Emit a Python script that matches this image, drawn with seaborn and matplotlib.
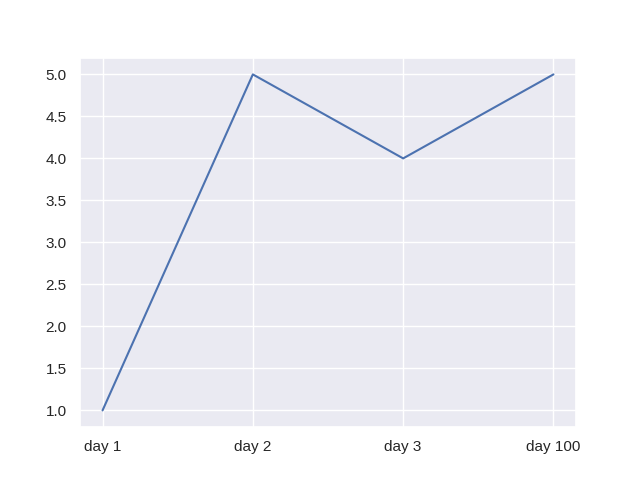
import matplotlib
matplotlib.use("Agg")
import matplotlib.pyplot as plt
import seaborn as sns

days = ["day 1", "day 2", "day 3", "day 100"]
values = [1, 5, 4, 5]

sns.set_theme()
plt.rcParams["font.family"] = ["Liberation Sans", "DejaVu Sans"]

fig, ax = plt.subplots(figsize=(6.4, 4.8), dpi=100)
sns.lineplot(x=days, y=values, ax=ax)

fig.savefig("out.png")
